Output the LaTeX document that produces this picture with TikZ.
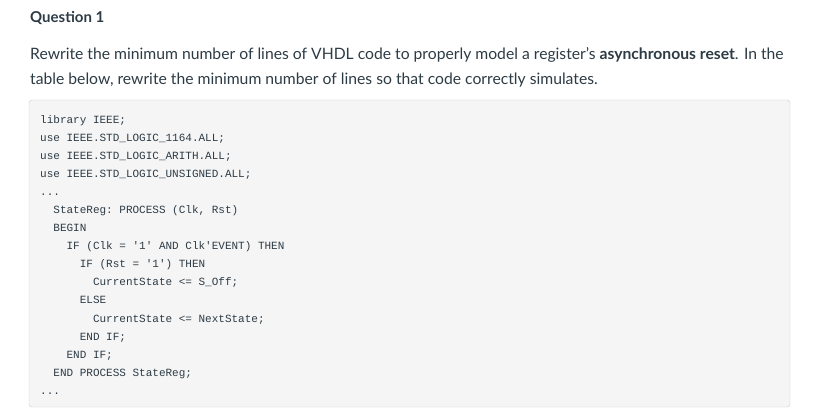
\documentclass[tikz,border=0pt]{standalone}
\usepackage{fontspec}
\setmainfont{Lato}
\setmonofont{Liberation Mono}
\definecolor{txt}{HTML}{2D3B45}
\definecolor{boxfill}{HTML}{F5F5F5}
\definecolor{boxline}{HTML}{C7CDD1}
\begin{document}
\begin{tikzpicture}[x=1pt,y=-1pt,
  code/.style={anchor=base west,inner sep=0pt,font=\fontsize{11}{13}\ttfamily,text=txt},
  para/.style={anchor=base west,inner sep=0pt,font=\fontsize{15.7}{18}\selectfont,text=txt}]
\useasboundingbox (0,0) rectangle (813,419);
\node[anchor=base west,inner sep=0pt,font=\fontsize{15}{18}\bfseries,text=txt] (q) at (30,23) {Question 1};
\node[para] (p1) at (30,60) {Rewrite the minimum number of lines of VHDL code to properly model a register's \textbf{asynchronous reset}. In the};
\node[para] (p2) at (30,85) {table below, rewrite the minimum number of lines so that code correctly simulates.};
\draw[boxline,fill=boxfill,rounded corners=3pt] (29,100) rectangle (790,407);
\node[code] (c1) at (40,124) {library IEEE;};
\node[code] (c2) at (40,142) {use IEEE.STD\_LOGIC\_1164.ALL;};
\node[code] (c3) at (40,160) {use IEEE.STD\_LOGIC\_ARITH.ALL;};
\node[code] (c4) at (40,178) {use IEEE.STD\_LOGIC\_UNSIGNED.ALL;};
\node[code] (c5) at (40,196) {...};
\node[code] (c6) at (53.2,214) {StateReg: PROCESS (Clk, Rst)};
\node[code] (c7) at (53.2,232) {BEGIN};
\node[code] (c8) at (66.4,250) {IF (Clk = '1' AND Clk'EVENT) THEN};
\node[code] (c9) at (79.6,268) {IF (Rst = '1') THEN};
\node[code] (c10) at (92.8,286) {CurrentState <= S\_Off;};
\node[code] (c11) at (79.6,304) {ELSE};
\node[code] (c12) at (92.8,322) {CurrentState <= NextState;};
\node[code] (c13) at (79.6,340) {END IF;};
\node[code] (c14) at (66.4,358) {END IF;};
\node[code] (c15) at (53.2,376) {END PROCESS StateReg;};
\node[code] (c16) at (40,394) {...};
\end{tikzpicture}
\end{document}
